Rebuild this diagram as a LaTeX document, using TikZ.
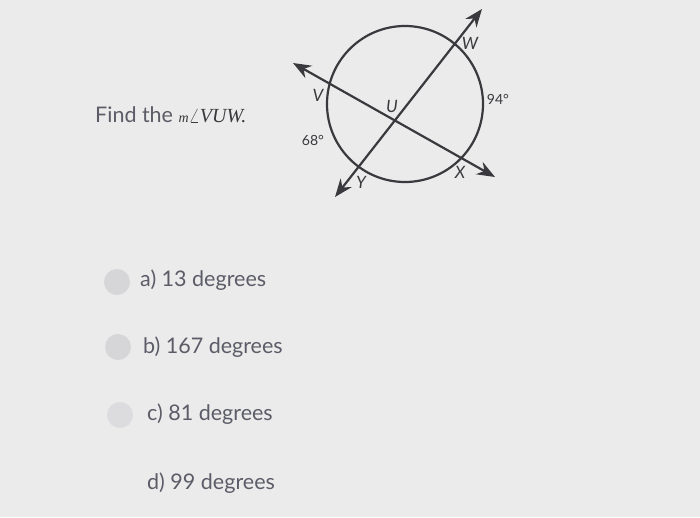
\documentclass[tikz,border=0pt]{standalone}
\usepackage{fontspec}
\setmainfont{Lato}
\newfontfamily\qserif{Liberation Serif}
\usetikzlibrary{arrows.meta}
\definecolor{bg}{HTML}{EBEBEB}
\definecolor{txt}{HTML}{5C5C68}
\definecolor{ink}{HTML}{3A3A3E}
\definecolor{radio}{HTML}{D6D6D8}
\tikzset{
  opt/.style={anchor=west, text=txt, font=\fontsize{21.5}{24}\selectfont, inner sep=0pt},
  radiob/.style={circle, fill=radio, minimum size=26pt, inner sep=0pt},
  ptlabel/.style={text=ink, font=\fontsize{17}{19}\selectfont\itshape, inner sep=0pt},
  arclabel/.style={text=ink, font=\fontsize{14}{16}\selectfont, inner sep=0pt},
  secant/.style={ink, line width=2.2pt, {Stealth[length=18pt,width=14pt]}-{Stealth[length=18pt,width=14pt]}}
}
\begin{document}
\begin{tikzpicture}[x=1pt,y=-1pt]
\fill[bg] (0,0) rectangle (700,517);
\useasboundingbox (0,0) rectangle (700,517);
% question
\node[opt] (q) at (95,115) {Find the {\color{ink}\qserif\itshape\fontsize{14}{16}\selectfont m\fontsize{20}{22}\selectfont$\angle$VUW.}};
% circle
\node[draw=ink, line width=2.2pt, circle, minimum size=156pt, inner sep=0pt] (c) at (405,104) {};
\coordinate (vt) at (293,63);
\coordinate (xt) at (495,177);
\coordinate (wt) at (482,9);
\coordinate (yt) at (335,197);
\draw[secant] (vt) -- (xt);
\draw[secant] (yt) -- (wt);
\node[ptlabel] (lv) at (318,95) {V};
\node[ptlabel] (lw) at (470,43) {W};
\node[ptlabel] (lu) at (392,106) {U};
\node[ptlabel] (lx) at (460,172) {X};
\node[ptlabel] (ly) at (361,182) {Y};
\node[arclabel] (a94) at (498,99) {94°};
\node[arclabel] (a68) at (313,140) {68°};
% options
\node[radiob] (ra) at (117,282) {};
\node[radiob] (rb) at (118,347) {};
\node[radiob, fill=radio!70!bg] (rc) at (120,415) {};
\node[opt] (oa) at (140,280) {a) 13 degrees};
\node[opt] (ob) at (143,347) {b) 167 degrees};
\node[opt] (oc) at (147,414) {c) 81 degrees};
\node[opt] (od) at (147,483) {d) 99 degrees};
\end{tikzpicture}
\end{document}
